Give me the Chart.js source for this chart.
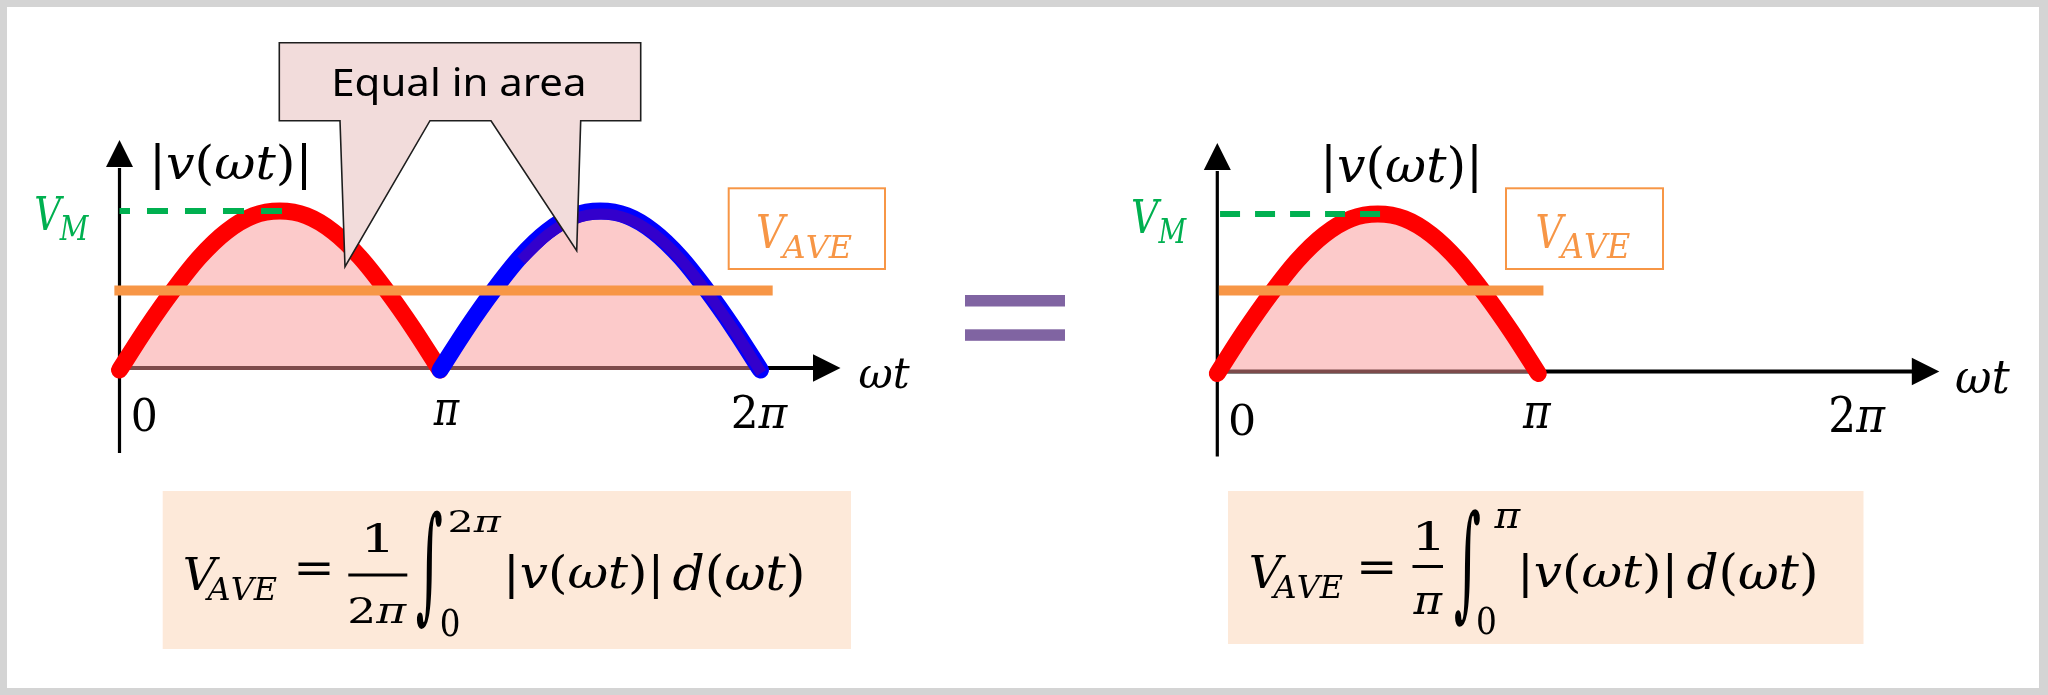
<!DOCTYPE html>
<html><head><meta charset="utf-8">
<style>
html,body{margin:0;padding:0;background:#fff;}
#wrap{position:relative;width:2048px;height:695px;overflow:hidden;background:#fff;}
#frame{position:absolute;left:0;top:0;width:2048px;height:695px;box-sizing:border-box;border-style:solid;border-color:#d4d4d4;border-width:7px 9px 7px 7px;pointer-events:none;}
canvas{position:absolute;left:0;top:0;width:2048px;height:695px;}
</style>
<script src="https://cdn.jsdelivr.net/npm/chart.js@4.4.0/dist/chart.umd.min.js"></script>
</head><body>
<div id="wrap">
<canvas id="c1" width="2048" height="695"></canvas>
<canvas id="c2" width="2048" height="695"></canvas>
<div id="frame"></div>
</div>
<script>
// ---------- data (ωt in units of π, |v| relative to V_M) ----------
const halfCycle1 = [0, 0.083, 0.167, 0.25, 0.333, 0.417, 0.5, 0.583, 0.667, 0.75, 0.833, 0.917, 1];
const absV1      = [0, 0.26, 0.5, 0.71, 0.87, 0.97, 1, 0.97, 0.87, 0.71, 0.5, 0.26, 0];
const halfCycle2 = [1, 1.083, 1.167, 1.25, 1.333, 1.417, 1.5, 1.583, 1.667, 1.75, 1.833, 1.917, 2];
const absV2      = [0, 0.26, 0.5, 0.71, 0.87, 0.97, 1, 0.97, 0.87, 0.71, 0.5, 0.26, 0];
const shadeAngle = [1.25, 1.333, 1.417, 1.5, 1.583, 1.667, 1.75, 1.833, 1.917, 2];
const shadeV     = [0.71, 0.87, 0.97, 1, 0.97, 0.87, 0.71, 0.5, 0.26, 0];
const halfCycleR = [0, 0.083, 0.167, 0.25, 0.333, 0.417, 0.5, 0.583, 0.667, 0.75, 0.833, 0.917, 1];
const absVR      = [0, 0.26, 0.5, 0.71, 0.87, 0.97, 1, 0.97, 0.87, 0.71, 0.5, 0.26, 0];
const vAveLeft = 0.5;
const vAveRight = 0.52;
const vAveSpanLeft = [-0.016, 2.038];
const vAveSpanRight = [0.005, 1.016];
const vMax = 1;
const vmSpan = [0.507, 0];
const tickValues = [0, 1, 2];
const tickLabels = ['0', 'π', '2π'];
const xAxisLabel = 'ωt';
const yAxisLabel = '|v(ωt)|';
const calloutText = 'Equal in area';

const pts = (xs, ys) => xs.map((x, i) => ({x: x, y: ys[i]}));
const flat = (span, v) => span.map(x => ({x: x, y: v}));

// ---------- helpers ----------
const SERIF = '"DejaVu Serif", "Liberation Serif", serif';
const ITALIC = /[vωtVAVEMdπ]/;
function runsOf(s, forceItalic) {
  return [...s].map(c => [c, forceItalic === undefined ? ITALIC.test(c) : forceItalic]);
}
function drawRuns(ctx, runs, box, color, family) {
  const [L, T, R, B] = box;
  const fam = family || SERIF;
  const fontOf = (it, size) => (it ? 'italic ' : '') + size + 'px ' + fam;
  let asc = 0, desc = 0, firstL = 0, lastR = 0; const widths = [];
  runs.forEach(([t, it], i) => {
    ctx.font = fontOf(it, 100);
    const m = ctx.measureText(t);
    asc = Math.max(asc, m.actualBoundingBoxAscent);
    desc = Math.max(desc, m.actualBoundingBoxDescent);
    widths.push(m.width);
    if (i === 0) firstL = m.actualBoundingBoxLeft;
    if (i === runs.length - 1) lastR = m.actualBoundingBoxRight;
  });
  const k = (B - T) / (asc + desc);
  let inkW = firstL + lastR;
  for (let i = 0; i < widths.length - 1; i++) inkW += widths[i];
  const sx = (R - L) / (inkW * k);
  ctx.save();
  ctx.translate(L, T + asc * k);
  ctx.scale(sx, 1);
  ctx.fillStyle = color; ctx.textAlign = 'left'; ctx.textBaseline = 'alphabetic';
  let x = firstL * k;
  runs.forEach(([t, it], i) => { ctx.font = fontOf(it, 100 * k); ctx.fillText(t, x, 0); x += widths[i] * k; });
  ctx.restore();
}

function drawAxes(chart) {
  const {ctx} = chart; const xs = chart.scales.x, ys = chart.scales.y;
  const x0 = xs.getPixelForValue(0), x2 = xs.getPixelForValue(2);
  const y0 = ys.getPixelForValue(0) - 2, y1 = ys.getPixelForValue(1);
  ctx.save();
  ctx.strokeStyle = '#000'; ctx.fillStyle = '#000';
  ctx.lineWidth = 3.2;
  ctx.beginPath(); ctx.moveTo(x0, y0 + 85); ctx.lineTo(x0, y1 - 43); ctx.stroke();
  ctx.beginPath(); ctx.moveTo(x0, y1 - 71); ctx.lineTo(x0 + 13.5, y1 - 44); ctx.lineTo(x0 - 13.5, y1 - 44); ctx.closePath(); ctx.fill();
  ctx.lineWidth = 4;
  ctx.beginPath(); ctx.moveTo(x0, y0); ctx.lineTo(x2 + 54, y0); ctx.stroke();
  ctx.beginPath(); ctx.moveTo(x2 + 80, y0); ctx.lineTo(x2 + 52.5, y0 - 13.8); ctx.lineTo(x2 + 52.5, y0 + 13.8); ctx.closePath(); ctx.fill();
  ctx.restore();
}

function vAveBox(ctx, box, vBox, subBox) {
  ctx.save();
  ctx.fillStyle = '#fff'; ctx.fillRect(box[0], box[1], box[2] - box[0], box[3] - box[1]);
  ctx.strokeStyle = '#F79646'; ctx.lineWidth = 2;
  ctx.strokeRect(box[0] + 1, box[1] + 1, box[2] - box[0] - 2, box[3] - box[1] - 2);
  ctx.restore();
  drawRuns(ctx, [['V', true]], vBox, '#F79646');
  drawRuns(ctx, runsOf('AVE', true), subBox, '#F79646');
}

const shiftPlugin = {
  beforeDatasetDraw(chart, args) {
    const s = chart.data.datasets[args.index].shift;
    if (s) { chart.ctx.save(); chart.ctx.translate(s[0], s[1]); }
  },
  afterDatasetDraw(chart, args) {
    if (chart.data.datasets[args.index].shift) chart.ctx.restore();
  }
};

function lineDs(data, color, width, extra) {
  return Object.assign({
    data: data, borderColor: color, borderWidth: width, borderCapStyle: 'round',
    borderJoinStyle: 'round', pointRadius: 0, fill: false, clip: false
  }, extra || {});
}
const fillPink = 'rgba(250,150,150,0.5)';

function makeChart(id, padding, datasets, deco) {
  return new Chart(document.getElementById(id), {
    type: 'line',
    data: {datasets: datasets},
    options: {
      responsive: false, animation: false, devicePixelRatio: 1, events: [],
      layout: {padding: padding},
      scales: {
        x: {type: 'linear', min: 0, max: 2, display: false},
        y: {type: 'linear', min: 0, max: 1, display: false}
      },
      plugins: {legend: {display: false}, tooltip: {enabled: false}, filler: {drawTime: 'beforeDatasetsDraw'}}
    },
    plugins: [Object.assign({id: deco.id}, shiftPlugin, deco)]
  });
}

// ---------- left chart ----------
makeChart('c1', {left: 119.5, right: 2048 - 760.5, top: 211, bottom: 695 - 370}, [
  lineDs(pts(halfCycle1, absV1), '#FF0000', 17, {cubicInterpolationMode: 'monotone', fill: 'origin', backgroundColor: fillPink, order: 5}),
  lineDs(pts(halfCycle2, absV2), '#0000FF', 17, {cubicInterpolationMode: 'monotone', fill: 'origin', backgroundColor: fillPink, order: 4}),
  lineDs(pts(shadeAngle, shadeV), '#3300CC', 11, {cubicInterpolationMode: 'monotone', borderCapStyle: 'butt', order: 3, shift: [1, 3]}),
  lineDs(flat(vAveSpanLeft, vAveLeft), '#F79646', 10, {borderCapStyle: 'butt', order: 2}),
  lineDs(flat(vmSpan, vMax), '#00B050', 6, {borderCapStyle: 'butt', borderDash: [21, 17], order: 1})
], {
  id: 'deco1',
  beforeDraw(chart) {
    const ctx = chart.ctx;
    drawAxes(chart);
    ctx.fillStyle = '#FDE9D9'; ctx.fillRect(162.7, 491, 688.3, 158);
    ctx.fillStyle = '#8064A2';
    ctx.fillRect(965, 295, 100, 11.5);
    ctx.fillRect(965, 329.3, 100, 11.5);
  },
  afterDraw(chart) {
    const ctx = chart.ctx;
    const tb = [[133.3, 398.3, 155, 431.7], [433.3, 400, 460, 425], [733.3, 395, 788.3, 428.3]];
    tickLabels.forEach((t, i) => drawRuns(ctx, runsOf(t), tb[i], '#000'));
    drawRuns(ctx, runsOf(xAxisLabel), [859.3, 358.3, 910, 388.3], '#000');
    drawRuns(ctx, runsOf(yAxisLabel), [155, 142.7, 306, 189.3], '#000');
    drawRuns(ctx, [['V', true]], [36, 196, 64, 230], '#00B050');
    drawRuns(ctx, [['M', true]], [59.3, 216, 89.3, 240], '#00B050');
    vAveBox(ctx, [727.7, 187.3, 886, 270], [758, 213, 788, 248], [780, 234, 851.7, 258]);
    // callout
    ctx.save();
    ctx.beginPath();
    ctx.moveTo(279.3, 42.7); ctx.lineTo(640.7, 42.7); ctx.lineTo(640.7, 120.7);
    ctx.lineTo(580.7, 120.7); ctx.lineTo(576.7, 250.7); ctx.lineTo(491, 120.7);
    ctx.lineTo(430, 120.7); ctx.lineTo(345, 266.7); ctx.lineTo(340, 120.7);
    ctx.lineTo(279.3, 120.7); ctx.closePath();
    ctx.fillStyle = '#F2DCDB'; ctx.fill();
    ctx.strokeStyle = '#1e1e1e'; ctx.lineWidth = 1.6; ctx.lineJoin = 'miter'; ctx.stroke();
    ctx.restore();
    drawRuns(ctx, [[calloutText, false]], [335, 66.7, 583.3, 105], '#000', '"Noto Sans", "DejaVu Sans", sans-serif');
    // formula: V_AVE = 1/(2π) ∫_0^{2π} |v(ωt)| d(ωt)
    drawRuns(ctx, [['V', true]], [185, 556.7, 220, 590], '#000');
    drawRuns(ctx, runsOf('AVE', true), [205, 576.7, 276.7, 600], '#000');
    drawRuns(ctx, [['=', false]], [298.3, 563.3, 330, 583.3], '#000');
    drawRuns(ctx, [['1', false]], [367, 523.3, 388.3, 551.7], '#000');
    ctx.fillStyle = '#000'; ctx.fillRect(348.3, 573.5, 59, 3);
    drawRuns(ctx, runsOf('2π'), [350, 596.7, 407.3, 623.3], '#000');
    drawRuns(ctx, [['∫', false]], [416.7, 510, 441.7, 630], '#000');
    drawRuns(ctx, runsOf('2π'), [450, 510, 501.7, 531.7], '#000');
    drawRuns(ctx, [['0', false]], [441.7, 608.3, 458.3, 636.7], '#000');
    drawRuns(ctx, runsOf(yAxisLabel), [509, 553.3, 658, 598.3], '#000');
    drawRuns(ctx, runsOf('d(ωt)'), [673, 553.3, 802, 598.3], '#000');
  }
});

// ---------- right chart ----------
makeChart('c2', {left: 1217.3, right: 2048 - 1859.3, top: 214, bottom: 695 - 373.5}, [
  lineDs(pts(halfCycleR, absVR), '#FF0000', 17, {cubicInterpolationMode: 'monotone', fill: 'origin', backgroundColor: fillPink, order: 5}),
  lineDs(flat(vAveSpanRight, vAveRight), '#F79646', 10, {borderCapStyle: 'butt', order: 2}),
  lineDs(flat(vmSpan, vMax), '#00B050', 6, {borderCapStyle: 'butt', borderDash: [20, 15], order: 1})
], {
  id: 'deco2',
  beforeDraw(chart) {
    const ctx = chart.ctx;
    drawAxes(chart);
    ctx.fillStyle = '#FDE9D9'; ctx.fillRect(1228, 491, 635.5, 153);
  },
  afterDraw(chart) {
    const ctx = chart.ctx;
    const tb = [[1230.7, 403, 1253.3, 435], [1522.7, 403, 1551.7, 428], [1831, 396.7, 1886, 432]];
    tickLabels.forEach((t, i) => drawRuns(ctx, runsOf(t), tb[i], '#000'));
    drawRuns(ctx, runsOf(xAxisLabel), [1956, 361.7, 2010, 393.3], '#000');
    drawRuns(ctx, runsOf(yAxisLabel), [1326, 145, 1476.7, 192.7], '#000');
    drawRuns(ctx, [['V', true]], [1133, 199, 1161.7, 233], '#00B050');
    drawRuns(ctx, [['M', true]], [1158, 218, 1187, 243], '#00B050');
    vAveBox(ctx, [1505, 187.3, 1664, 270], [1537.3, 213.3, 1566, 248.3], [1558.3, 233.3, 1630, 258.3]);
    // formula: V_AVE = 1/π ∫_0^{π} |v(ωt)| d(ωt)
    drawRuns(ctx, [['V', true]], [1251, 555, 1286, 588.3], '#000');
    drawRuns(ctx, runsOf('AVE', true), [1271, 575, 1342.7, 598.3], '#000');
    drawRuns(ctx, [['=', false]], [1361, 561.7, 1392.7, 581.7], '#000');
    drawRuns(ctx, [['1', false]], [1418, 522, 1439.3, 550.3], '#000');
    ctx.fillStyle = '#000'; ctx.fillRect(1412.5, 565, 30.5, 3);
    drawRuns(ctx, runsOf('π'), [1413, 593, 1443, 614], '#000');
    drawRuns(ctx, [['∫', false]], [1455, 509, 1480, 628], '#000');
    drawRuns(ctx, runsOf('π'), [1494, 509, 1521, 528], '#000');
    drawRuns(ctx, [['0', false]], [1478, 606, 1494.7, 634.3], '#000');
    drawRuns(ctx, runsOf(yAxisLabel), [1523, 552, 1672, 597], '#000');
    drawRuns(ctx, runsOf('d(ωt)'), [1687, 552, 1815, 597], '#000');
  }
});
</script>
</body></html>
